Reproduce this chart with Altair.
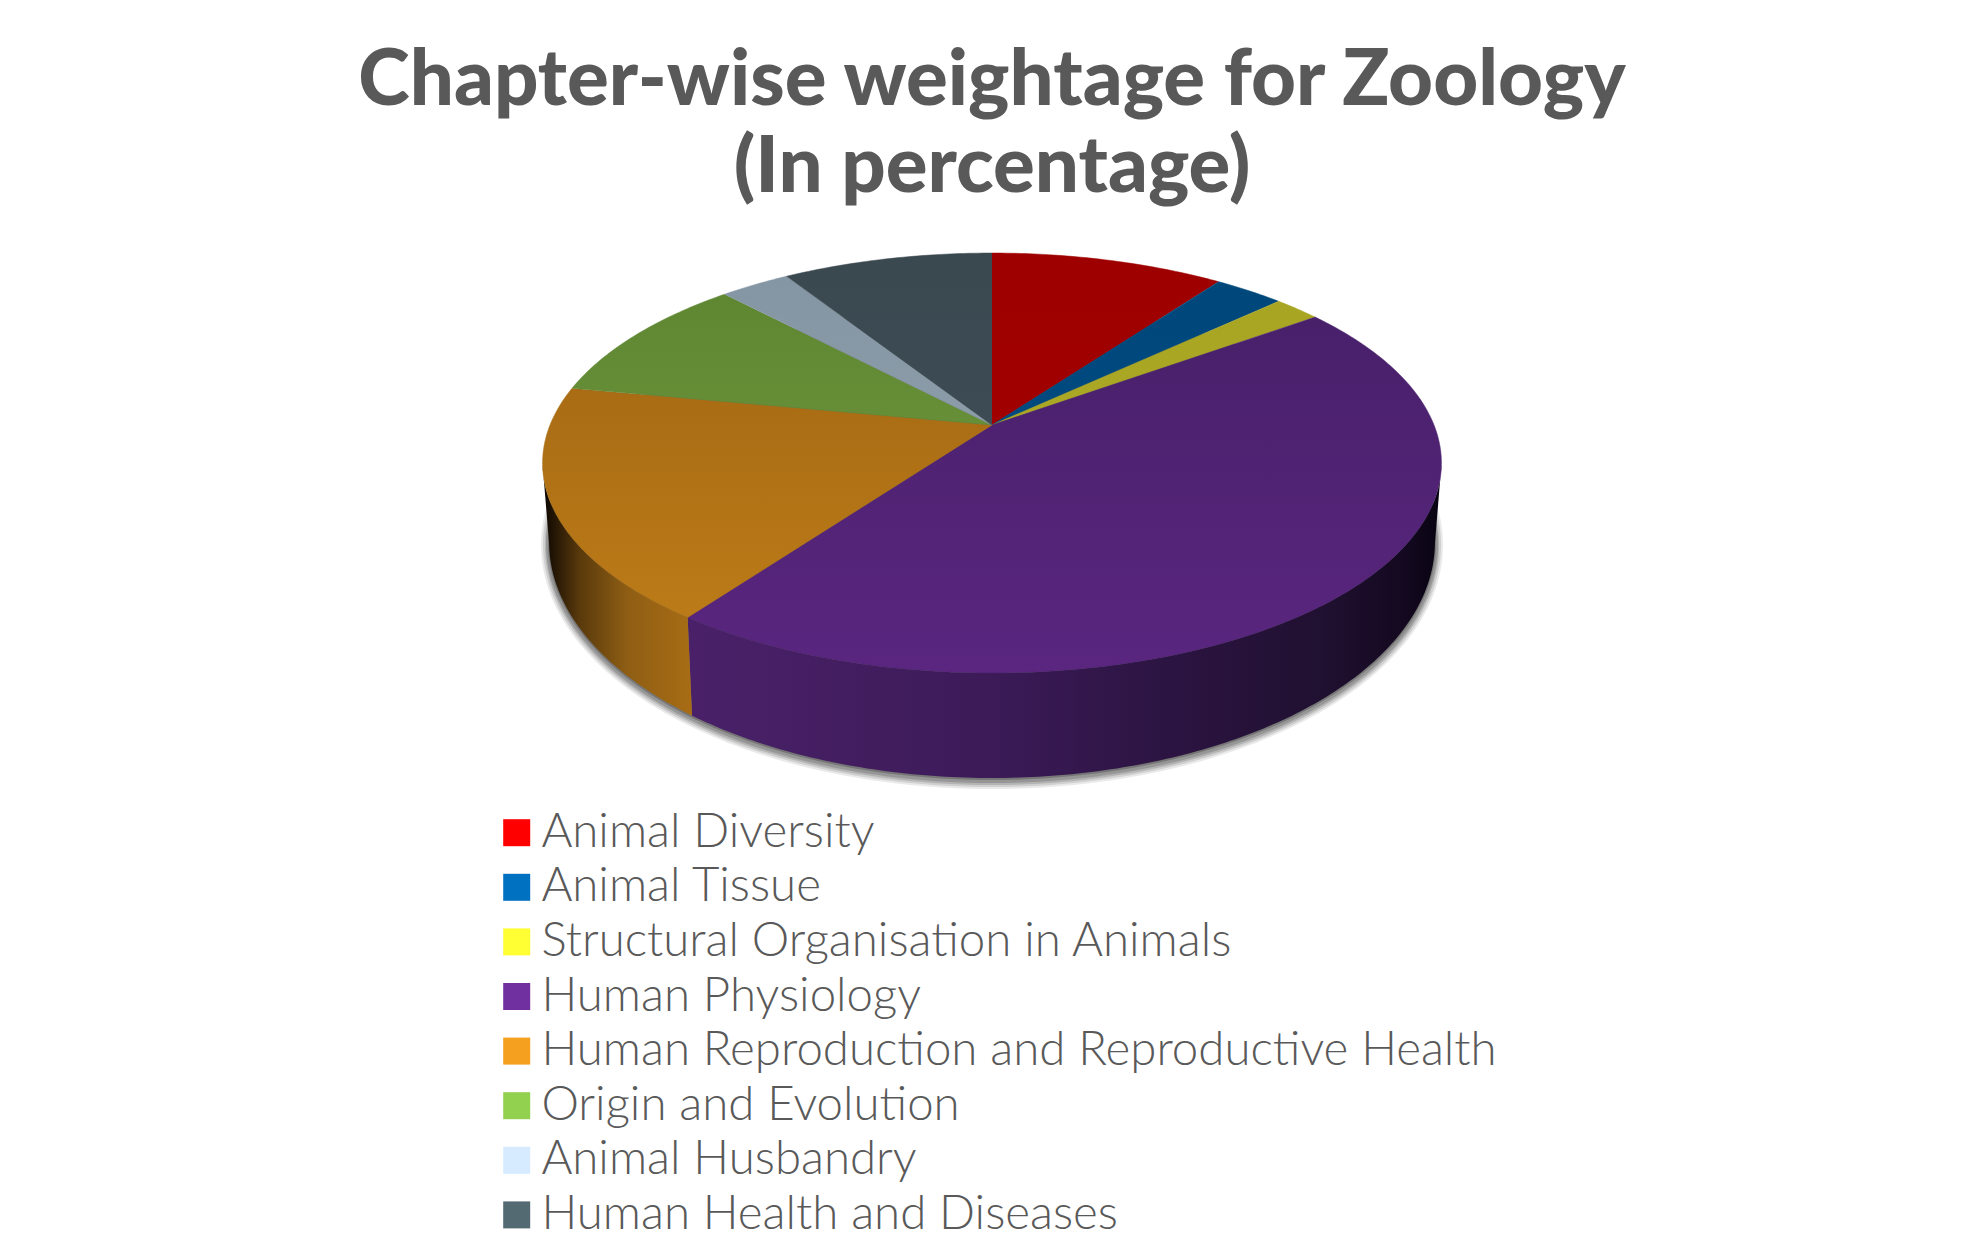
import math
import altair as alt
import pandas as pd

chapters = ["Animal Diversity", "Animal Tissue", "Structural Organisation in Animals",
            "Human Physiology", "Human Reproduction and Reproductive Health",
            "Origin and Evolution", "Animal Husbandry", "Human Health and Diseases"]
values = [10, 3, 2, 45, 18, 10, 3, 9]
legend_colors = ["#FF0000", "#0070C0", "#FFFF33", "#7030A0", "#F5A01E", "#92D050", "#D6EBFF", "#546A73"]
top_colors = [("#9E0000", "#A00000"), ("#00477A", "#004A80"), ("#A8A522", "#ABA826"),
              ("#48206A", "#5A2680"), ("#A96C14", "#BC7B18"), ("#5F8732", "#678F38"),
              ("#8495A3", "#8C9CA9"), ("#3A4850", "#3D4C54")]
title_lines = ["Chapter-wise weightage for Zoology", "(In percentage)"]

TEXT = "#595959"
PAD_TOP = 35
W, PLOT_TOP = 1968, 212
H = 1232 - PLOT_TOP
CX, APEX_Y, K, S, T = 992, 425, 0.181, 442, 203.1
E_Y, E_A, E_B = 463, 449.5, 210
B_Y, B_A, B_B = 542, 443, 236


def top_pt(pct):
    th = 2 * math.pi * pct / 100
    X, Y = math.sin(th), math.cos(th)
    d = 1 + K * Y
    return CX + S * X / d, APEX_Y - T * Y / d


def frac(p):
    return (p[0] - CX) / E_A, (p[1] - E_Y) / E_B


def steps(a, b):
    n = max(4, int((b - a) * 5))
    return [a + (b - a) * i / n for i in range(n + 1)]


X_SC = alt.Scale(domain=[8, 8 + W], range=[0, W])
Y_SC = alt.Scale(domain=[PLOT_TOP, PLOT_TOP + H], range=[0, H])


def poly(points, **mark):
    df = pd.DataFrame({"x": [p[0] for p in points], "y": [p[1] for p in points], "i": range(len(points))})
    return alt.Chart(df).mark_line(**mark).encode(
        x=alt.X("x:Q", scale=X_SC, axis=None),
        y=alt.Y("y:Q", scale=Y_SC, axis=None),
        order="i:Q",
    )


def grad(stops, horizontal=True):
    return {"gradient": "linear", "x1": 0, "y1": 0, "x2": 1 if horizontal else 0, "y2": 0 if horizontal else 1,
            "stops": [{"offset": o, "color": c} for o, c in stops]}


layers = []

# soft shadow under the pie
for d, dy, op in [(8, 3, 0.10), (6, 3, 0.14), (4, 3, 0.18), (3, 2, 0.22), (1, 1, 0.3)]:
    pts = [(CX + (B_A + d) * math.cos(2 * math.pi * i / 240), B_Y + dy + (B_B + d) * math.sin(2 * math.pi * i / 240))
           for i in range(240)]
    layers.append(poly(pts, fill="#303030", fillOpacity=op, strokeOpacity=0))

# side wall
cum = [0]
for v in values:
    cum.append(cum[-1] + v)

wall_fill = {
    3: grad([(0, "#4A2169"), (0.4, "#3C1B58"), (0.6, "#2E1545"), (0.85, "#201030"), (0.96, "#12081E"), (1, "#080310")]),
    4: grad([(0, "#0A0500"), (0.06, "#1E1204"), (0.25, "#5A3A0C"), (0.57, "#8F5E14"), (1, "#A86C14")]),
}
for idx, fill in wall_fill.items():
    edge = [top_pt(p) for p in steps(cum[idx], cum[idx + 1])]
    edge = [p for p in edge if frac(p)[1] >= 0]
    lower = [(CX + frac(p)[0] * B_A, B_Y + frac(p)[1] * B_B) for p in edge]
    layers.append(poly(edge + lower[::-1], fill=fill, strokeOpacity=0))

# top face
for i, v in enumerate(values):
    pts = [(CX, APEX_Y)] + [top_pt(p) for p in steps(cum[i], cum[i + 1])]
    c0, c1 = top_colors[i]
    layers.append(poly(pts, fill=grad([(0, c0), (1, c1)], horizontal=False), stroke=c0, strokeWidth=0.5))

# legend carrier
table = pd.DataFrame({"chapter": chapters, "value": values, "x": [CX] * 8, "y": [APEX_Y] * 8})
legend_layer = alt.Chart(table).mark_point(filled=True, size=0).encode(
    x=alt.X("x:Q", scale=X_SC, axis=None),
    y=alt.Y("y:Q", scale=Y_SC, axis=None),
    color=alt.Color("chapter:N", sort=chapters,
                    scale=alt.Scale(domain=chapters, range=legend_colors),
                    legend=alt.Legend(title=None, orient="none", legendX=493 - 8, legendY=597,
                                      symbolType="square", symbolSize=729, symbolStrokeWidth=0,
                                      symbolOpacity=1, labelFont="Lato", labelFontSize=47.4,
                                      labelFontWeight=300, labelColor=TEXT, labelLimit=1200,
                                      labelOffset=1, rowPadding=5.6, padding=0)),
)
layers.append(legend_layer)

chart = alt.layer(*layers).properties(
    width=W, height=H,
    title=alt.Title(title_lines, anchor="middle", font="Lato", fontSize=78, fontWeight=900,
                    color=TEXT, lineHeight=87, offset=4),
    padding={"top": PAD_TOP, "left": 0, "right": 0, "bottom": 0},
).configure_view(stroke=None)

chart.save("out.html", embed_options={"renderer": "svg", "actions": False})
